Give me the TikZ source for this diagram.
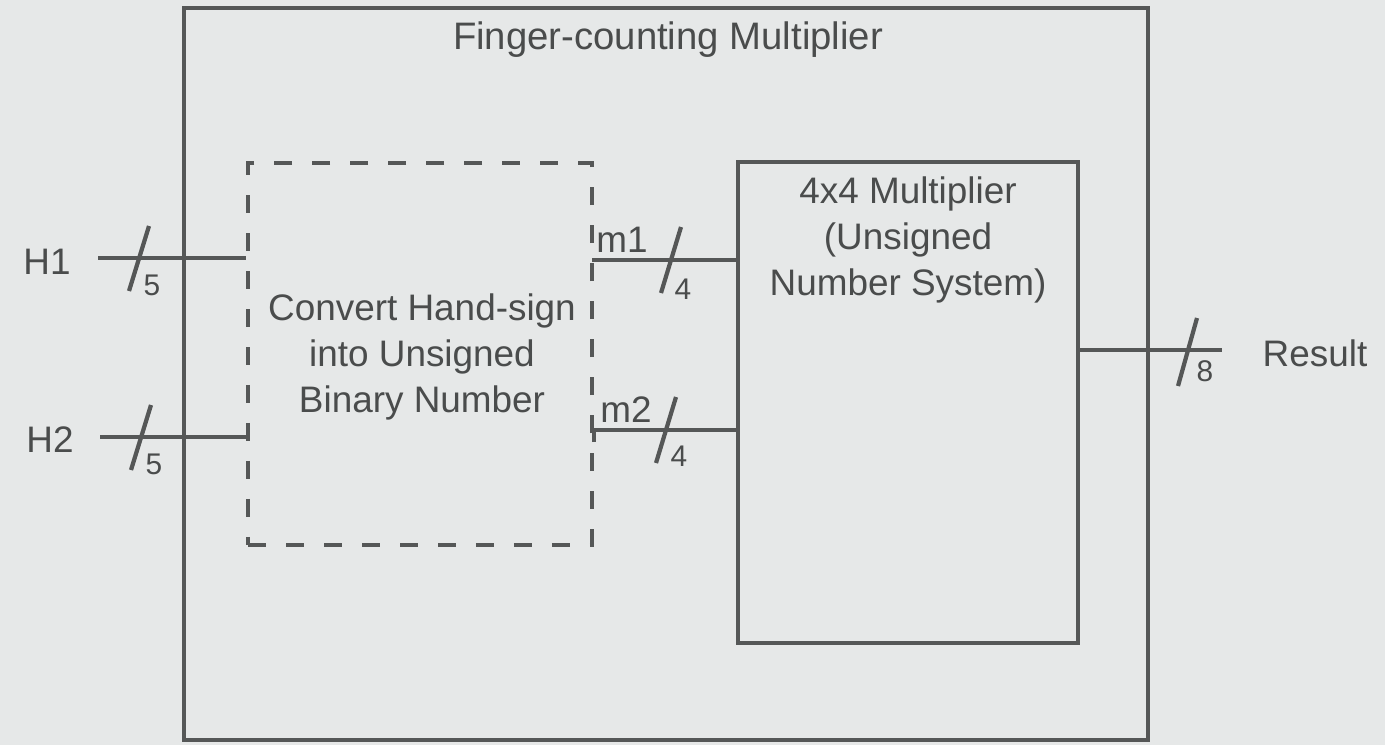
\documentclass[tikz,border=0pt]{standalone}
\usepackage{fontspec}
\setmainfont{Liberation Sans}
\definecolor{ln}{HTML}{555757}
\definecolor{tx}{HTML}{4A4C4C}
\definecolor{bg}{HTML}{E6E8E8}
\begin{document}
\begin{tikzpicture}[x=0.02cm,y=-0.02cm,
  wire/.style={draw=ln,line width=2.4pt},
  box/.style={draw=ln,line width=2.4pt,inner sep=0pt},
  dbox/.style={draw=ln,line width=2.4pt,inner sep=0pt,dash pattern=on 0.36cm off 0.4cm},
  lbl/.style={text=tx,font=\fontsize{21}{26}\selectfont,inner sep=0pt},
  num/.style={text=tx,font=\fontsize{17}{20}\selectfont,inner sep=0pt},
  slash/.style={draw=ln,line width=2.4pt}]
\fill[bg] (0,0) rectangle (1385,745);
\useasboundingbox (0,0) rectangle (1385,745);
% boxes
\node[box,minimum width=19.28cm,minimum height=14.64cm] (outer) at (666,374) {};
\node[dbox,minimum width=6.88cm,minimum height=7.64cm] (conv) at (420,354) {};
\node[box,minimum width=6.8cm,minimum height=9.62cm] (mult) at (908,402.5) {};
% texts
\node[lbl,font=\fontsize{21.8}{26}\selectfont] (title) at (668,40) {Finger-counting Multiplier};
\node[lbl,align=center] (convt) at (422,357) {Convert Hand-sign\\into Unsigned\\Binary Number};
\node[lbl,align=center] (multt) at (908,240) {4x4 Multiplier\\(Unsigned\\Number System)};
% inputs
\node[lbl] (h1) at (47,262) {H1};
\node[lbl] (h2) at (50,440) {H2};
\coordinate (h1e) at (98,258);
\coordinate (h2e) at (100,437);
\draw[wire] (h1e) -- (conv.west |- h1e);
\draw[wire] (h2e) -- (conv.west |- h2e);
\draw[slash] (129,291) -- (149,226);
\draw[slash] (131,470) -- (151,405);
\node[num] (n5a) at (152,285) {5};
\node[num] (n5b) at (154,464) {5};
% m1, m2
\coordinate (m1s) at (592,260);
\coordinate (m2s) at (594,430);
\draw[wire] (m1s) -- (mult.west |- m1s);
\draw[wire] (594,442) -- (m2s) -- (mult.west |- m2s);
\draw[slash] (661,293) -- (681,227);
\draw[slash] (656,463) -- (676,397);
\node[num] (n4a) at (683,289) {4};
\node[num] (n4b) at (679,456) {4};
\node[lbl] (m1) at (622,240) {m1};
\node[lbl] (m2) at (626,410) {m2};
% result
\coordinate (re) at (1222,350);
\draw[wire] (mult.east |- re) -- (re);
\draw[slash] (1178,386) -- (1197,318);
\node[num] (n8) at (1205,371) {8};
\node[lbl] (res) at (1315,353) {Result};
\end{tikzpicture}
\end{document}
